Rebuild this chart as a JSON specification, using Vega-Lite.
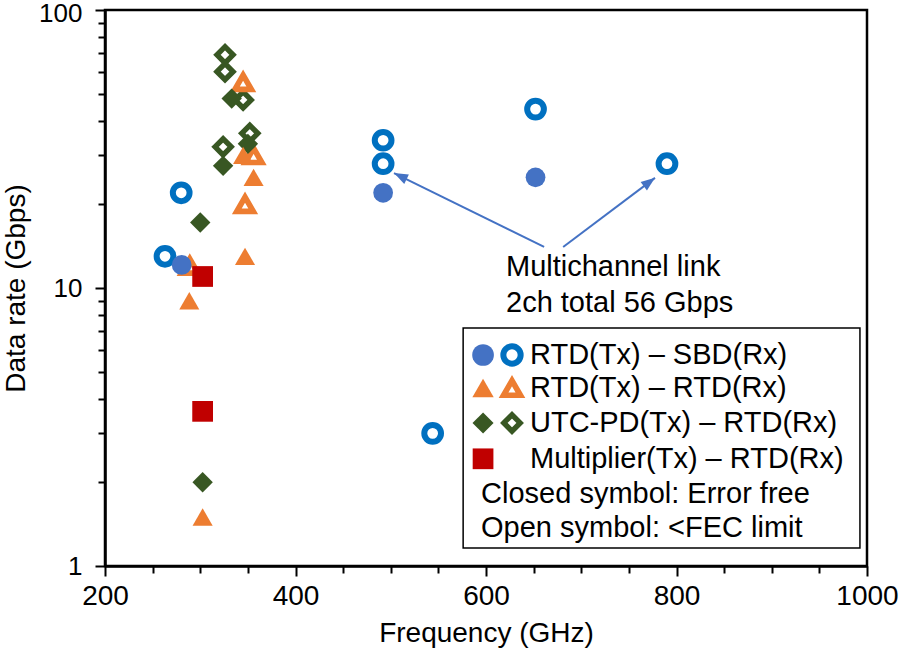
{
  "$schema": "https://vega.github.io/schema/vega-lite/v6.json",
  "description": "Data rate vs carrier frequency for THz wireless links, by transmitter/receiver pair.",
  "width": 762,
  "height": 556,
  "autosize": {"type": "none"},
  "padding": {"left": 105, "top": 10, "right": 33, "bottom": 88},
  "background": "white",
  "datasets": {
    "links": [
      {"freq": 300, "rate": 17.2, "series": "UTCPD-RTD", "type": "closed"},
      {"freq": 324, "rate": 27.5, "series": "UTCPD-RTD", "type": "closed"},
      {"freq": 333, "rate": 48, "series": "UTCPD-RTD", "type": "closed"},
      {"freq": 350, "rate": 33, "series": "UTCPD-RTD", "type": "closed"},
      {"freq": 302.5, "rate": 2.0, "series": "UTCPD-RTD", "type": "closed"},
      {"freq": 326, "rate": 69, "series": "UTCPD-RTD", "type": "open"},
      {"freq": 326, "rate": 60, "series": "UTCPD-RTD", "type": "open"},
      {"freq": 345, "rate": 47.5, "series": "UTCPD-RTD", "type": "open"},
      {"freq": 352, "rate": 36, "series": "UTCPD-RTD", "type": "open"},
      {"freq": 324, "rate": 32.2, "series": "UTCPD-RTD", "type": "open"},
      {"freq": 347, "rate": 13, "series": "RTD-RTD", "type": "closed"},
      {"freq": 288.5, "rate": 9, "series": "RTD-RTD", "type": "closed"},
      {"freq": 302.5, "rate": 1.5, "series": "RTD-RTD", "type": "closed"},
      {"freq": 356, "rate": 25, "series": "RTD-RTD", "type": "closed"},
      {"freq": 345, "rate": 30, "series": "RTD-RTD", "type": "closed"},
      {"freq": 345, "rate": 55, "series": "RTD-RTD", "type": "open"},
      {"freq": 347, "rate": 20, "series": "RTD-RTD", "type": "open"},
      {"freq": 356, "rate": 30, "series": "RTD-RTD", "type": "open"},
      {"freq": 289, "rate": 12, "series": "RTD-RTD", "type": "open"},
      {"freq": 263, "rate": 13, "series": "RTD-SBD", "type": "open"},
      {"freq": 280, "rate": 22, "series": "RTD-SBD", "type": "open"},
      {"freq": 492, "rate": 34, "series": "RTD-SBD", "type": "open"},
      {"freq": 492, "rate": 28, "series": "RTD-SBD", "type": "open"},
      {"freq": 652, "rate": 44, "series": "RTD-SBD", "type": "open"},
      {"freq": 790, "rate": 28, "series": "RTD-SBD", "type": "open"},
      {"freq": 544, "rate": 3, "series": "RTD-SBD", "type": "open"},
      {"freq": 280.5, "rate": 12.1, "series": "RTD-SBD", "type": "closed"},
      {"freq": 492, "rate": 22, "series": "RTD-SBD", "type": "closed"},
      {"freq": 652, "rate": 25, "series": "RTD-SBD", "type": "closed"},
      {"freq": 302.5, "rate": 11, "series": "Mult-RTD", "type": "closed"},
      {"freq": 302.5, "rate": 3.6, "series": "Mult-RTD", "type": "closed"}
    ],
    "arrows": [
      {"id": "a", "freq": 503.4, "rate": 25.9, "freq2": 661, "rate2": 14.05},
      {"id": "b", "freq": 777.4, "rate": 24.9, "freq2": 681, "rate2": 14.05}
    ],
    "legendBox": [
      {"freq": 576, "rate": 7.18, "freq2": 992.6, "rate2": 1.16}
    ],
    "legendSymbols": [
      {"freq": 596.9, "rate": 5.74, "series": "RTD-SBD", "type": "closed"},
      {"freq": 596.9, "rate": 4.37, "series": "RTD-RTD", "type": "closed"},
      {"freq": 596.9, "rate": 3.27, "series": "UTCPD-RTD", "type": "closed"},
      {"freq": 596.9, "rate": 2.43, "series": "Mult-RTD", "type": "closed"},
      {"freq": 627.3, "rate": 5.74, "series": "RTD-SBD", "type": "open"},
      {"freq": 627.3, "rate": 4.37, "series": "RTD-RTD", "type": "open"},
      {"freq": 627.3, "rate": 3.27, "series": "UTCPD-RTD", "type": "open"}
    ],
    "labels": [
      {"freq": 646.2, "rate": 5.74, "text": "RTD(Tx) – SBD(Rx)"},
      {"freq": 646.2, "rate": 4.37, "text": "RTD(Tx) – RTD(Rx)"},
      {"freq": 646.2, "rate": 3.27, "text": "UTC-PD(Tx) – RTD(Rx)"},
      {"freq": 646.2, "rate": 2.43, "text": "Multiplier(Tx) – RTD(Rx)"},
      {"freq": 594.8, "rate": 1.82, "text": "Closed symbol: Error free"},
      {"freq": 594.8, "rate": 1.37, "text": "Open symbol: <FEC limit"},
      {"freq": 621, "rate": 11.9, "text": "Multichannel link"},
      {"freq": 621, "rate": 8.83, "text": "2ch total 56 Gbps"}
    ]
  },
  "encoding": {
    "x": {
      "field": "freq",
      "type": "quantitative",
      "scale": {"domain": [200, 1000], "nice": false},
      "title": "Frequency (GHz)",
      "axis": {
        "values": [200, 250, 300, 350, 400, 450, 500, 550, 600, 650, 700, 750, 800, 850, 900, 950, 1000],
        "labelExpr": "datum.value % 200 === 0 ? format(datum.value, 'd') : ''",
        "tickSize": {"condition": {"test": "datum.value % 200 === 0", "value": 10}, "value": 7},
        "labelPadding": 6,
        "titlePadding": 9
      }
    },
    "y": {
      "field": "rate",
      "type": "quantitative",
      "scale": {"type": "log", "domain": [1, 100], "nice": false},
      "title": "Data rate (Gbps)",
      "axis": {
        "values": [1, 2, 3, 4, 5, 6, 7, 8, 9, 10, 20, 30, 40, 50, 60, 70, 80, 90, 100],
        "labelExpr": "datum.value === 1 || datum.value === 10 || datum.value === 100 ? format(datum.value, 'd') : ''",
        "tickSize": {"condition": {"test": "datum.value === 1 || datum.value === 10 || datum.value === 100", "value": 10}, "value": 7},
        "labelOffset": {"condition": {"test": "datum.value === 100", "value": 3}, "value": 0},
        "labelFontSize": 26,
        "labelPadding": 13,
        "titlePadding": 8
      }
    }
  },
  "resolve": {"scale": {"size": "independent"}},
  "layer": [
    {
      "data": {"name": "links"},
      "transform": [{"filter": "datum.type === 'open'"}],
      "mark": {"type": "point", "filled": false, "fill": "white", "fillOpacity": 1, "opacity": 1},
      "encoding": {
        "shape": {"field": "series", "type": "nominal", "legend": null,
          "scale": {"domain": ["RTD-SBD", "RTD-RTD", "UTCPD-RTD", "Mult-RTD"], "range": ["circle", "triangle-up", "diamond", "square"]}},
        "size": {"field": "series", "type": "nominal", "legend": null,
          "scale": {"domain": ["RTD-SBD", "RTD-RTD", "UTCPD-RTD", "Mult-RTD"], "range": [280, 250, 460, 300]}},
        "strokeWidth": {"field": "series", "type": "nominal", "legend": null,
          "scale": {"domain": ["RTD-SBD", "RTD-RTD", "UTCPD-RTD", "Mult-RTD"], "range": [6, 5, 5, 5]}},
        "stroke": {"field": "series", "type": "nominal", "legend": null,
          "scale": {"domain": ["RTD-SBD", "RTD-RTD", "UTCPD-RTD", "Mult-RTD"], "range": ["#0070C0", "#ED7D31", "#385723", "#C00000"]}}
      }
    },
    {
      "data": {"name": "links"},
      "transform": [{"filter": "datum.type === 'closed'"}],
      "mark": {"type": "point", "filled": true, "strokeWidth": 0, "opacity": 1},
      "encoding": {
        "shape": {"field": "series", "type": "nominal", "legend": null},
        "size": {"field": "series", "type": "nominal", "legend": null,
          "scale": {"domain": ["RTD-SBD", "RTD-RTD", "UTCPD-RTD", "Mult-RTD"], "range": [390, 430, 450, 340]}},
        "color": {"field": "series", "type": "nominal", "legend": null,
          "scale": {"domain": ["RTD-SBD", "RTD-RTD", "UTCPD-RTD", "Mult-RTD"], "range": ["#4472C4", "#ED7D31", "#385723", "#C00000"]}}
      }
    },
    {
      "data": {"name": "arrows"},
      "mark": {"type": "rule", "color": "#4472C4", "strokeWidth": 2},
      "encoding": {
        "x2": {"field": "freq2"},
        "y2": {"field": "rate2"}
      }
    },
    {
      "data": {"name": "arrows"},
      "mark": {"type": "point", "shape": "M0,0L-0.75,2L0.75,2Z", "filled": true, "color": "#4472C4", "size": 196, "opacity": 1},
      "encoding": {
        "angle": {"condition": {"test": "datum.id === 'a'", "value": 296}, "value": 53}
      }
    },
    {
      "data": {"name": "legendBox"},
      "mark": {"type": "rect", "fill": "white", "stroke": "black", "strokeWidth": 1.5},
      "encoding": {
        "x2": {"field": "freq2"},
        "y2": {"field": "rate2"}
      }
    },
    {
      "data": {"name": "legendSymbols"},
      "transform": [{"filter": "datum.type === 'open'"}],
      "mark": {"type": "point", "filled": false, "fill": "white", "fillOpacity": 1, "opacity": 1},
      "encoding": {
        "shape": {"field": "series", "type": "nominal", "legend": null},
        "size": {"field": "series", "type": "nominal", "legend": null,
          "scale": {"domain": ["RTD-SBD", "RTD-RTD", "UTCPD-RTD", "Mult-RTD"], "range": [300, 250, 400, 300]}},
        "strokeWidth": {"field": "series", "type": "nominal", "legend": null},
        "stroke": {"field": "series", "type": "nominal", "legend": null}
      }
    },
    {
      "data": {"name": "legendSymbols"},
      "transform": [{"filter": "datum.type === 'closed'"}],
      "mark": {"type": "point", "filled": true, "strokeWidth": 0, "opacity": 1},
      "encoding": {
        "shape": {"field": "series", "type": "nominal", "legend": null},
        "size": {"field": "series", "type": "nominal", "legend": null,
          "scale": {"domain": ["RTD-SBD", "RTD-RTD", "UTCPD-RTD", "Mult-RTD"], "range": [470, 430, 400, 260]}},
        "color": {"field": "series", "type": "nominal", "legend": null}
      }
    },
    {
      "data": {"name": "labels"},
      "mark": {"type": "text", "align": "left", "baseline": "middle", "fontSize": 29, "font": "Liberation Sans", "color": "black"},
      "encoding": {
        "text": {"field": "text"}
      }
    }
  ],
  "config": {
    "font": "Liberation Sans",
    "view": {"stroke": "black", "strokeWidth": 2.5},
    "axis": {
      "grid": false,
      "domainColor": "black",
      "domainWidth": 2.5,
      "tickColor": "black",
      "tickWidth": 2,
      "labelFont": "Liberation Sans",
      "labelFontSize": 28,
      "labelColor": "black",
      "titleFont": "Liberation Sans",
      "titleFontSize": 28,
      "titleFontWeight": "normal",
      "titleColor": "black",
      "labelFlush": false,
      "labelOverlap": false
    }
  }
}
